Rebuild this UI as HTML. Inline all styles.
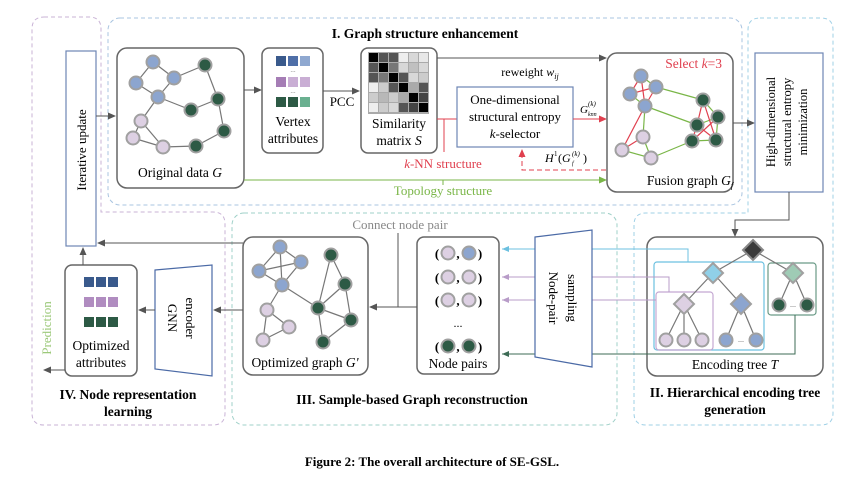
<!DOCTYPE html>
<html><head><meta charset="utf-8"><style>
html,body{margin:0;padding:0;background:#fff;}
svg{display:block;}
text{font-family:"Liberation Serif",serif;}
</style></head><body>
<svg width="861" height="483" viewBox="0 0 861 483" xmlns="http://www.w3.org/2000/svg">
<defs>
<marker id="ag" markerWidth="8" markerHeight="8" refX="7" refY="4" orient="auto" markerUnits="userSpaceOnUse"><path d="M0,0.5 L8,4 L0,7.5z" fill="#555"/></marker>
<marker id="ar" markerWidth="8" markerHeight="8" refX="7" refY="4" orient="auto" markerUnits="userSpaceOnUse"><path d="M0,0.5 L8,4 L0,7.5z" fill="#e0404f"/></marker>
<marker id="agr" markerWidth="8" markerHeight="8" refX="7" refY="4" orient="auto" markerUnits="userSpaceOnUse"><path d="M0,0.5 L8,4 L0,7.5z" fill="#7ab648"/></marker>
<marker id="ab" markerWidth="8" markerHeight="8" refX="7" refY="4" orient="auto" markerUnits="userSpaceOnUse"><path d="M0,1 L7,4 L0,7z" fill="#6cc0e0"/></marker>
<marker id="ap" markerWidth="8" markerHeight="8" refX="7" refY="4" orient="auto" markerUnits="userSpaceOnUse"><path d="M0,1 L7,4 L0,7z" fill="#b89cc8"/></marker>
<marker id="adg" markerWidth="8" markerHeight="8" refX="7" refY="4" orient="auto" markerUnits="userSpaceOnUse"><path d="M0,1 L7,4 L0,7z" fill="#3d6b55"/></marker>
</defs>

<path d="M44,17 H89 Q101,17 101,29 V212 H213 Q225,212 225,224 V413 Q225,425 213,425 H44 Q32,425 32,413 V29 Q32,17 44,17z" fill="none" stroke="#c9b3d6" stroke-dasharray="4,3"/>
<rect x="108" y="18" width="634" height="187" rx="12" fill="none" stroke="#a9c4e0" stroke-dasharray="4,3"/>
<rect x="232" y="213" width="385" height="212" rx="12" fill="none" stroke="#9fd0c8" stroke-dasharray="4,3"/>
<path d="M760,18 H821 Q833,18 833,30 V413 Q833,425 821,425 H646 Q634,425 634,413 V225 Q634,213 646,213 H748 V30 Q748,18 760,18z" fill="none" stroke="#9fd0e6" stroke-dasharray="4,3"/>

<rect x="66" y="51" width="30" height="195" fill="#fff" stroke="#6d86b5" stroke-width="1.2"/>
<text transform="translate(86,150) rotate(-90)" font-size="13" text-anchor="middle">Iterative update</text>
<line x1="96" y1="116" x2="115" y2="116" stroke="#555" marker-end="url(#ag)"/>

<text x="425" y="38" font-size="13.5" font-weight="bold" text-anchor="middle">I. Graph structure enhancement</text>

<rect x="117" y="48" width="127" height="140" rx="10" fill="#fff" stroke="#666" stroke-width="1.5"/>
<g stroke="#777" stroke-width="1.2">
<line x1="153" y1="62" x2="136" y2="83"/><line x1="153" y1="62" x2="174" y2="78"/><line x1="174" y1="78" x2="205" y2="65"/><line x1="174" y1="78" x2="158" y2="97"/><line x1="136" y1="83" x2="158" y2="97"/><line x1="158" y1="97" x2="191" y2="110"/><line x1="205" y1="65" x2="218" y2="99"/><line x1="218" y1="99" x2="191" y2="110"/><line x1="218" y1="99" x2="224" y2="131"/><line x1="224" y1="131" x2="196" y2="146"/><line x1="196" y1="146" x2="163" y2="147"/><line x1="163" y1="147" x2="133" y2="138"/><line x1="133" y1="138" x2="141" y2="121"/><line x1="141" y1="121" x2="163" y2="147"/><line x1="141" y1="121" x2="158" y2="97"/>
</g>
<g stroke="#a0a0a0" stroke-width="2">
<circle cx="153" cy="62" r="6.5" fill="#8ca5cf"/><circle cx="136" cy="83" r="6.5" fill="#8ca5cf"/><circle cx="174" cy="78" r="6.5" fill="#8ca5cf"/><circle cx="158" cy="97" r="6.5" fill="#8ca5cf"/>
<circle cx="205" cy="65" r="6.5" fill="#2d5a45"/><circle cx="218" cy="99" r="6.5" fill="#2d5a45"/><circle cx="191" cy="110" r="6.5" fill="#2d5a45"/><circle cx="224" cy="131" r="6.5" fill="#2d5a45"/><circle cx="196" cy="146" r="6.5" fill="#2d5a45"/>
<circle cx="141" cy="121" r="6.5" fill="#ddd0e3"/><circle cx="133" cy="138" r="6.5" fill="#ddd0e3"/><circle cx="163" cy="147" r="6.5" fill="#ddd0e3"/>
</g>
<text x="180" y="177" font-size="13.5" text-anchor="middle">Original data <tspan font-style="italic">G</tspan></text>
<line x1="244" y1="90" x2="261" y2="90" stroke="#555" marker-end="url(#ag)"/>

<rect x="262" y="48" width="61" height="105" rx="7" fill="#fff" stroke="#666" stroke-width="1.5"/>
<rect x="276" y="56" width="10" height="10" fill="#3a5a8c"/><rect x="288" y="56" width="10" height="10" fill="#4f6fa8"/><rect x="300" y="56" width="10" height="10" fill="#8fa8d0"/>
<text x="293" y="72" font-size="7" text-anchor="middle" fill="#888">...</text>
<rect x="276" y="77" width="10" height="10" fill="#a57db5"/><rect x="288" y="77" width="10" height="10" fill="#c9aed4"/><rect x="300" y="77" width="10" height="10" fill="#c9aed4"/>
<text x="293" y="93" font-size="7" text-anchor="middle" fill="#888">...</text>
<rect x="276" y="97" width="10" height="10" fill="#2d5a45"/><rect x="288" y="97" width="10" height="10" fill="#2d5a45"/><rect x="300" y="97" width="10" height="10" fill="#6ab090"/>
<text x="293" y="126" font-size="13.5" text-anchor="middle">Vertex</text>
<text x="293" y="143" font-size="13.5" text-anchor="middle">attributes</text>
<line x1="323" y1="91" x2="359" y2="91" stroke="#555" marker-end="url(#ag)"/>
<text x="342" y="106" font-size="13" text-anchor="middle">PCC</text>

<rect x="361" y="48" width="76" height="105" rx="7" fill="#fff" stroke="#666" stroke-width="1.5"/>
<rect x="368" y="52" width="61" height="62" fill="#aaa"/>
<g>
<rect x="369" y="53" width="9" height="9" fill="#000"/><rect x="379" y="53" width="9" height="9" fill="#555"/><rect x="389" y="53" width="9" height="9" fill="#555"/><rect x="399" y="53" width="9" height="9" fill="#eee"/><rect x="409" y="53" width="9" height="9" fill="#d8d8d8"/><rect x="419" y="53" width="9" height="9" fill="#e8e8e8"/>
<rect x="369" y="63" width="9" height="9" fill="#555"/><rect x="379" y="63" width="9" height="9" fill="#000"/><rect x="389" y="63" width="9" height="9" fill="#777"/><rect x="399" y="63" width="9" height="9" fill="#d8d8d8"/><rect x="409" y="63" width="9" height="9" fill="#c0c0c0"/><rect x="419" y="63" width="9" height="9" fill="#d8d8d8"/>
<rect x="369" y="73" width="9" height="9" fill="#555"/><rect x="379" y="73" width="9" height="9" fill="#777"/><rect x="389" y="73" width="9" height="9" fill="#000"/><rect x="399" y="73" width="9" height="9" fill="#555"/><rect x="409" y="73" width="9" height="9" fill="#d8d8d8"/><rect x="419" y="73" width="9" height="9" fill="#ccc"/>
<rect x="369" y="83" width="9" height="9" fill="#eee"/><rect x="379" y="83" width="9" height="9" fill="#ccc"/><rect x="389" y="83" width="9" height="9" fill="#555"/><rect x="399" y="83" width="9" height="9" fill="#000"/><rect x="409" y="83" width="9" height="9" fill="#aaa"/><rect x="419" y="83" width="9" height="9" fill="#555"/>
<rect x="369" y="93" width="9" height="9" fill="#ccc"/><rect x="379" y="93" width="9" height="9" fill="#b8b8b8"/><rect x="389" y="93" width="9" height="9" fill="#ccc"/><rect x="399" y="93" width="9" height="9" fill="#aaa"/><rect x="409" y="93" width="9" height="9" fill="#000"/><rect x="419" y="93" width="9" height="9" fill="#444"/>
<rect x="369" y="103" width="9" height="9" fill="#eee"/><rect x="379" y="103" width="9" height="9" fill="#ccc"/><rect x="389" y="103" width="9" height="9" fill="#d8d8d8"/><rect x="399" y="103" width="9" height="9" fill="#555"/><rect x="409" y="103" width="9" height="9" fill="#444"/><rect x="419" y="103" width="9" height="9" fill="#000"/>
</g>
<text x="399" y="128" font-size="13.5" text-anchor="middle">Similarity</text>
<text x="399" y="145" font-size="13.5" text-anchor="middle">matrix  <tspan font-style="italic">S</tspan></text>

<line x1="437" y1="58" x2="606" y2="58" stroke="#555" marker-end="url(#ag)"/>
<text x="530" y="76" font-size="12" text-anchor="middle">reweight <tspan font-style="italic">w</tspan><tspan font-size="8" font-style="italic" dy="3">ij</tspan></text>
<line x1="437" y1="119" x2="457" y2="119" stroke="#e0404f"/>
<line x1="444" y1="119" x2="444" y2="152" stroke="#e0404f"/>
<text x="443" y="168" font-size="13" fill="#e0404f" text-anchor="middle"><tspan font-style="italic">k</tspan>-NN structure</text>
<rect x="457" y="87" width="116" height="60" fill="#fff" stroke="#6d86b5" stroke-width="1.2"/>
<text x="515" y="104" font-size="13" text-anchor="middle">One-dimensional</text>
<text x="515" y="121" font-size="13" text-anchor="middle">structural entropy</text>
<text x="515" y="138" font-size="13" text-anchor="middle"><tspan font-style="italic">k</tspan>-selector</text>
<line x1="573" y1="119" x2="606" y2="119" stroke="#e0404f" marker-end="url(#ar)"/>
<text x="580" y="113" font-size="11" font-style="italic">G</text><text x="588" y="106" font-size="7" font-style="italic">(k)</text><text x="588" y="116" font-size="6" font-style="italic">knn</text>
<path d="M606,170 H522 V150" fill="none" stroke="#e0404f" stroke-dasharray="5,3" marker-end="url(#ar)"/>
<text x="545" y="162" font-size="12" font-style="italic">H</text>
<text x="554" y="156" font-size="7">1</text>
<text x="558" y="162" font-size="12">(<tspan font-style="italic">G</tspan></text>
<text x="572" y="156" font-size="7" font-style="italic">(k)</text>
<text x="572" y="165" font-size="6" font-style="italic">f</text>
<text x="583" y="162" font-size="12">)</text>
<line x1="244" y1="180" x2="606" y2="180" stroke="#7ab648" marker-end="url(#agr)"/>
<line x1="443" y1="180" x2="443" y2="185" stroke="#7ab648"/>
<text x="443" y="195" font-size="13" fill="#7ab648" text-anchor="middle">Topology structure</text>

<rect x="607" y="53" width="126" height="139" rx="10" fill="#fff" stroke="#666" stroke-width="1.5"/>
<text x="722" y="68" font-size="13.5" fill="#e0404f" text-anchor="end">Select <tspan font-style="italic">k</tspan>=3</text>
<g stroke="#7ab648" stroke-width="1.2">
<line x1="656" y1="87" x2="703" y2="100"/><line x1="645" y1="106" x2="697" y2="125"/><line x1="645" y1="106" x2="643" y2="137"/><line x1="643" y1="137" x2="651" y2="158"/><line x1="622" y1="150" x2="651" y2="158"/><line x1="651" y1="158" x2="692" y2="141"/><line x1="703" y1="100" x2="718" y2="117"/><line x1="697" y1="125" x2="718" y2="117"/><line x1="692" y1="141" x2="716" y2="140"/><line x1="641" y1="76" x2="656" y2="87"/><line x1="630" y1="94" x2="645" y2="106"/><line x1="718" y1="117" x2="716" y2="140"/>
</g>
<g stroke="#e0404f" stroke-width="1.2">
<line x1="641" y1="76" x2="630" y2="94"/><line x1="641" y1="76" x2="645" y2="106"/><line x1="630" y1="94" x2="656" y2="87"/><line x1="656" y1="87" x2="645" y2="106"/><line x1="645" y1="106" x2="622" y2="150"/><line x1="622" y1="150" x2="643" y2="137"/><line x1="703" y1="100" x2="697" y2="125"/><line x1="703" y1="100" x2="716" y2="140"/><line x1="697" y1="125" x2="716" y2="140"/><line x1="718" y1="117" x2="692" y2="141"/><line x1="697" y1="125" x2="692" y2="141"/>
</g>
<g stroke="#a0a0a0" stroke-width="2">
<circle cx="641" cy="76" r="6.5" fill="#8ca5cf"/><circle cx="630" cy="94" r="6.5" fill="#8ca5cf"/><circle cx="656" cy="87" r="6.5" fill="#8ca5cf"/><circle cx="645" cy="106" r="6.5" fill="#8ca5cf"/>
<circle cx="703" cy="100" r="6.5" fill="#2d5a45"/><circle cx="718" cy="117" r="6.5" fill="#2d5a45"/><circle cx="697" cy="125" r="6.5" fill="#2d5a45"/><circle cx="692" cy="141" r="6.5" fill="#2d5a45"/><circle cx="716" cy="140" r="6.5" fill="#2d5a45"/>
<circle cx="643" cy="137" r="6.5" fill="#ddd0e3"/><circle cx="622" cy="150" r="6.5" fill="#ddd0e3"/><circle cx="651" cy="158" r="6.5" fill="#ddd0e3"/>
</g>
<text x="690" y="185" font-size="13.5" text-anchor="middle">Fusion graph  <tspan font-style="italic">G</tspan><tspan font-size="8" font-style="italic" dy="3">f</tspan></text>
<line x1="733" y1="123" x2="754" y2="123" stroke="#555" marker-end="url(#ag)"/>

<rect x="755" y="53" width="68" height="139" fill="#fff" stroke="#6d86b5" stroke-width="1.2"/>
<text transform="translate(775,122) rotate(-90)" font-size="12.5" text-anchor="middle">High-dimensional</text>
<text transform="translate(791,122) rotate(-90)" font-size="12.5" text-anchor="middle">structural entropy</text>
<text transform="translate(807,122) rotate(-90)" font-size="12.5" text-anchor="middle">minimization</text>
<path d="M789,192 V220 H735 V236" fill="none" stroke="#555" marker-end="url(#ag)"/>

<rect x="647" y="237" width="176" height="139" rx="10" fill="#fff" stroke="#666" stroke-width="1.5"/>
<rect x="654" y="262" width="110" height="88" rx="3" fill="none" stroke="#6cc0e0" stroke-width="1.2"/>
<rect x="656" y="292" width="57" height="58" rx="3" fill="none" stroke="#c4a8d2" stroke-width="1.2"/>
<rect x="768" y="263" width="48" height="52" rx="3" fill="none" stroke="#6a9a86" stroke-width="1.2"/>
<g stroke="#777" stroke-width="1.2">
<line x1="753" y1="250" x2="713" y2="273"/><line x1="753" y1="250" x2="793" y2="273"/><line x1="713" y1="273" x2="684" y2="304"/><line x1="713" y1="273" x2="741" y2="304"/><line x1="684" y1="304" x2="666" y2="340"/><line x1="684" y1="304" x2="684" y2="340"/><line x1="684" y1="304" x2="702" y2="340"/><line x1="741" y1="304" x2="726" y2="340"/><line x1="741" y1="304" x2="756" y2="340"/><line x1="793" y1="273" x2="779" y2="305"/><line x1="793" y1="273" x2="807" y2="305"/>
</g>
<g stroke="#a0a0a0" stroke-width="2">
<path d="M753,240 L763,250 L753,260 L743,250z" fill="#3a3a3a" stroke="#888"/>
<path d="M713,263 L723,273 L713,283 L703,273z" fill="#90d0e8"/>
<path d="M793,263 L803,273 L793,283 L783,273z" fill="#9fcbb5"/>
<path d="M684,294 L694,304 L684,314 L674,304z" fill="#ddd0e3"/>
<path d="M741,294 L751,304 L741,314 L731,304z" fill="#8ca5cf"/>
<circle cx="666" cy="340" r="6.5" fill="#ddd0e3"/><circle cx="684" cy="340" r="6.5" fill="#ddd0e3"/><circle cx="702" cy="340" r="6.5" fill="#ddd0e3"/>
<circle cx="726" cy="340" r="6.5" fill="#8ca5cf"/><circle cx="756" cy="340" r="6.5" fill="#8ca5cf"/>
<circle cx="779" cy="305" r="6.5" fill="#2d5a45"/><circle cx="807" cy="305" r="6.5" fill="#2d5a45"/>
</g>
<text x="741" y="342" font-size="8" text-anchor="middle" fill="#777">...</text>
<text x="793" y="307" font-size="8" text-anchor="middle" fill="#777">...</text>
<text x="735" y="369" font-size="13.5" text-anchor="middle">Encoding tree <tspan font-style="italic">T</tspan></text>

<path d="M688,262 V249 H502" fill="none" stroke="#6cc0e0" marker-end="url(#ab)"/>
<path d="M669,292 V277 H502" fill="none" stroke="#b89cc8" marker-end="url(#ap)"/>
<path d="M656,300 H502" fill="none" stroke="#b89cc8" marker-end="url(#ap)"/>
<path d="M795,315 V354 H502" fill="none" stroke="#3d6b55" marker-end="url(#adg)"/>
<path d="M535,237 L592,230 L592,367 L535,357z" fill="#fff" stroke="#4b6aa6" stroke-width="1.2"/>
<text transform="translate(549,298) rotate(90)" font-size="13" text-anchor="middle">Node-pair</text>
<text transform="translate(568,298) rotate(90)" font-size="13" text-anchor="middle">sampling</text>

<rect x="417" y="237" width="82" height="137" rx="7" fill="#fff" stroke="#666" stroke-width="1.5"/>
<g font-size="13" font-weight="bold" text-anchor="middle">
<text x="437" y="258">(</text><text x="458" y="258">,</text><text x="480" y="258">)</text>
<text x="437" y="282">(</text><text x="458" y="282">,</text><text x="480" y="282">)</text>
<text x="437" y="305">(</text><text x="458" y="305">,</text><text x="480" y="305">)</text>
<text x="437" y="351">(</text><text x="458" y="351">,</text><text x="480" y="351">)</text>
</g>
<g stroke="#a0a0a0" stroke-width="2">
<circle cx="448" cy="253" r="6.5" fill="#ddd0e3"/><circle cx="469" cy="253" r="6.5" fill="#8ca5cf"/>
<circle cx="448" cy="277" r="6.5" fill="#ddd0e3"/><circle cx="469" cy="277" r="6.5" fill="#ddd0e3"/>
<circle cx="448" cy="300" r="6.5" fill="#ddd0e3"/><circle cx="469" cy="300" r="6.5" fill="#ddd0e3"/>
<circle cx="448" cy="346" r="6.5" fill="#2d5a45"/><circle cx="469" cy="346" r="6.5" fill="#2d5a45"/>
</g>
<text x="458" y="327" font-size="12" text-anchor="middle">...</text>
<text x="458" y="368" font-size="13.5" text-anchor="middle">Node pairs</text>

<text x="400" y="229" font-size="13" fill="#888" text-anchor="middle">Connect node pair</text>
<line x1="398" y1="233" x2="398" y2="307" stroke="#555"/>
<line x1="417" y1="307" x2="370" y2="307" stroke="#555" marker-end="url(#ag)"/>

<rect x="243" y="237" width="125" height="138" rx="10" fill="#fff" stroke="#666" stroke-width="1.5"/>
<g stroke="#777" stroke-width="1.2">
<line x1="280" y1="247" x2="259" y2="271"/><line x1="280" y1="247" x2="301" y2="262"/><line x1="280" y1="247" x2="282" y2="285"/><line x1="259" y1="271" x2="301" y2="262"/><line x1="259" y1="271" x2="282" y2="285"/><line x1="301" y1="262" x2="282" y2="285"/><line x1="282" y1="285" x2="318" y2="308"/><line x1="282" y1="285" x2="267" y2="310"/><line x1="267" y1="310" x2="289" y2="327"/><line x1="267" y1="310" x2="263" y2="340"/><line x1="263" y1="340" x2="289" y2="327"/><line x1="331" y1="255" x2="318" y2="308"/><line x1="331" y1="255" x2="345" y2="284"/><line x1="345" y1="284" x2="318" y2="308"/><line x1="318" y1="308" x2="351" y2="320"/><line x1="351" y1="320" x2="345" y2="284"/><line x1="318" y1="308" x2="323" y2="342"/><line x1="323" y1="342" x2="351" y2="320"/>
</g>
<g stroke="#a0a0a0" stroke-width="2">
<circle cx="280" cy="247" r="6.5" fill="#8ca5cf"/><circle cx="259" cy="271" r="6.5" fill="#8ca5cf"/><circle cx="301" cy="262" r="6.5" fill="#8ca5cf"/><circle cx="282" cy="285" r="6.5" fill="#8ca5cf"/>
<circle cx="331" cy="255" r="6.5" fill="#2d5a45"/><circle cx="345" cy="284" r="6.5" fill="#2d5a45"/><circle cx="318" cy="308" r="6.5" fill="#2d5a45"/><circle cx="351" cy="320" r="6.5" fill="#2d5a45"/><circle cx="323" cy="342" r="6.5" fill="#2d5a45"/>
<circle cx="267" cy="310" r="6.5" fill="#ddd0e3"/><circle cx="289" cy="327" r="6.5" fill="#ddd0e3"/><circle cx="263" cy="340" r="6.5" fill="#ddd0e3"/>
</g>
<text x="305" y="367" font-size="13.5" text-anchor="middle">Optimized graph <tspan font-style="italic">G'</tspan></text>

<line x1="243" y1="243" x2="98" y2="243" stroke="#555" marker-end="url(#ag)"/>
<line x1="243" y1="310" x2="214" y2="310" stroke="#555" marker-end="url(#ag)"/>

<path d="M155,270 L212,265 L212,376 L155,369z" fill="#fff" stroke="#4b6aa6" stroke-width="1.2"/>
<text transform="translate(168,318) rotate(90)" font-size="13" text-anchor="middle">GNN</text>
<text transform="translate(186,318) rotate(90)" font-size="13" text-anchor="middle">encoder</text>
<line x1="155" y1="310" x2="139" y2="310" stroke="#555" marker-end="url(#ag)"/>

<rect x="65" y="265" width="72" height="111" rx="7" fill="#fff" stroke="#666" stroke-width="1.5"/>
<rect x="84" y="277" width="10" height="10" fill="#3a5a8c"/><rect x="96" y="277" width="10" height="10" fill="#3a5a8c"/><rect x="108" y="277" width="10" height="10" fill="#3a5a8c"/>
<rect x="84" y="297" width="10" height="10" fill="#b08cc0"/><rect x="96" y="297" width="10" height="10" fill="#b08cc0"/><rect x="108" y="297" width="10" height="10" fill="#b08cc0"/>
<rect x="84" y="317" width="10" height="10" fill="#2d5a45"/><rect x="96" y="317" width="10" height="10" fill="#2d5a45"/><rect x="108" y="317" width="10" height="10" fill="#2d5a45"/>
<text x="101" y="350" font-size="13.5" text-anchor="middle">Optimized</text>
<text x="101" y="367" font-size="13.5" text-anchor="middle">attributes</text>
<line x1="83" y1="265" x2="83" y2="248" stroke="#555" marker-end="url(#ag)"/>
<line x1="65" y1="370" x2="44" y2="370" stroke="#555" marker-end="url(#ag)"/>
<text transform="translate(51,328) rotate(-90)" font-size="13" fill="#9cc97a" text-anchor="middle">Prediction</text>

<text x="128" y="399" font-size="13.5" font-weight="bold" text-anchor="middle">IV. Node representation</text>
<text x="128" y="416" font-size="13.5" font-weight="bold" text-anchor="middle">learning</text>
<text x="412" y="404" font-size="13.5" font-weight="bold" text-anchor="middle">III. Sample-based Graph reconstruction</text>
<text x="735" y="397" font-size="13.5" font-weight="bold" text-anchor="middle">II. Hierarchical encoding tree</text>
<text x="735" y="414" font-size="13.5" font-weight="bold" text-anchor="middle">generation</text>

<text x="432" y="466" font-size="13" font-weight="bold" text-anchor="middle">Figure 2: The overall architecture of SE-GSL.</text>
</svg>
</body></html>
